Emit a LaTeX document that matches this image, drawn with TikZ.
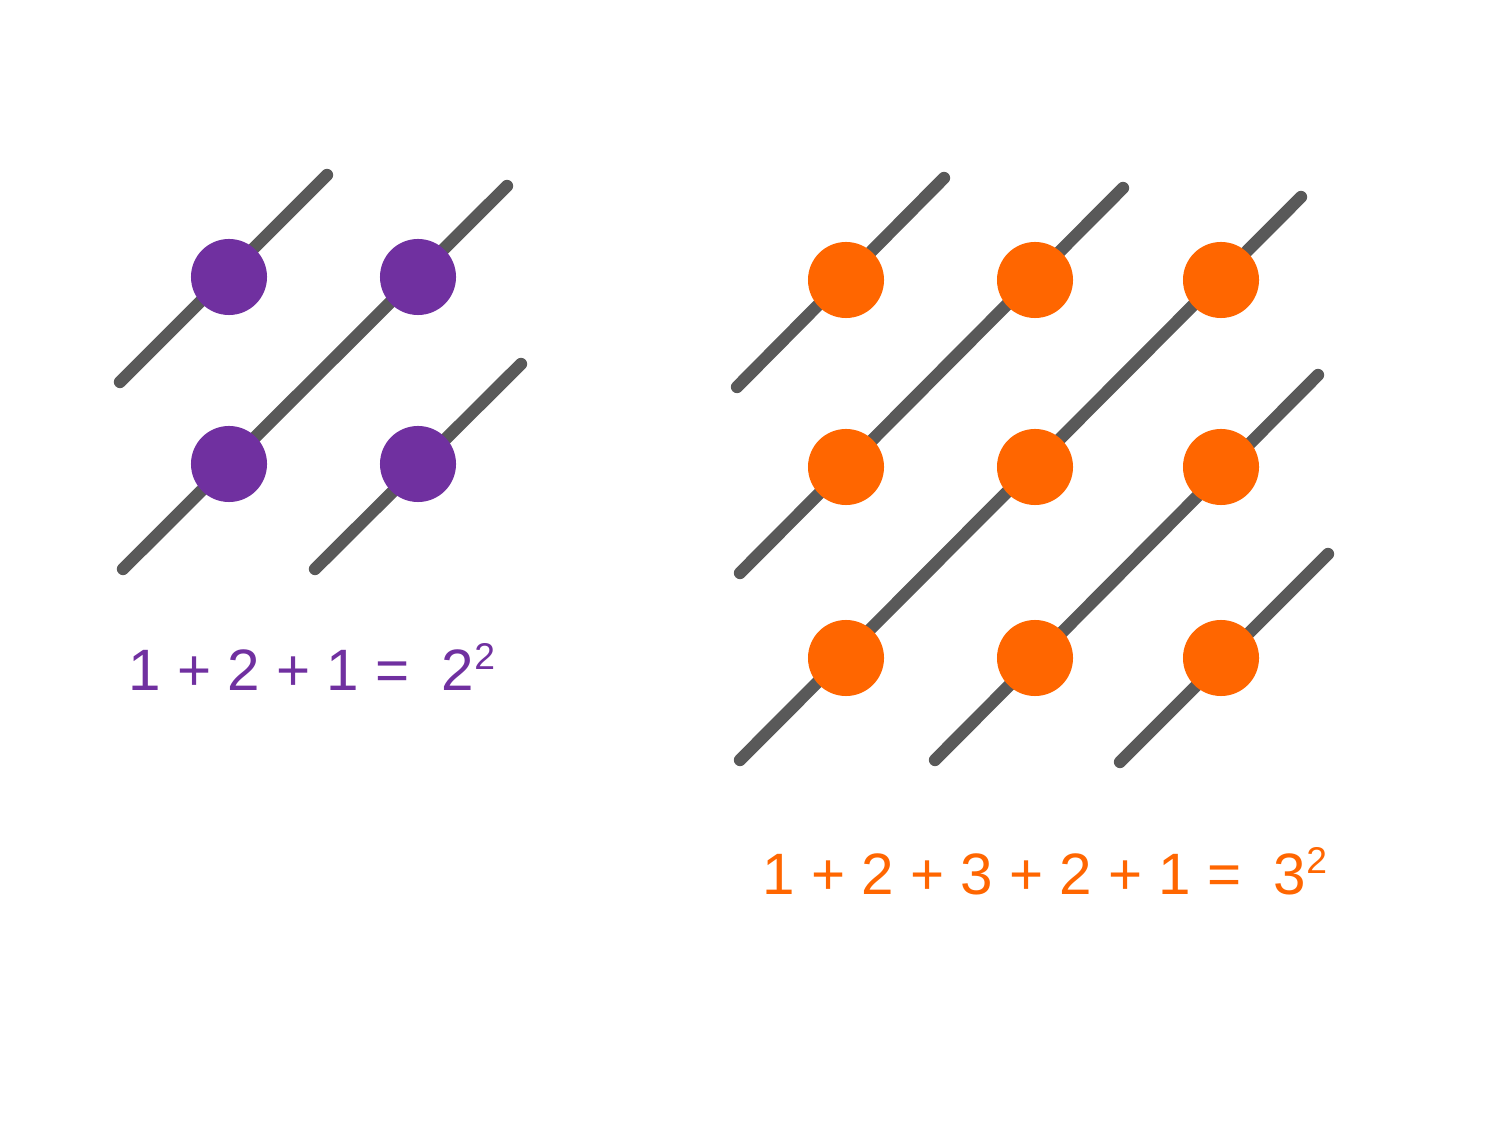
\documentclass[tikz,border=0pt]{standalone}
\usepackage{fontspec}
\setmainfont{Liberation Sans}
\definecolor{rodgray}{RGB}{89,89,89}
\definecolor{beadpurple}{RGB}{112,48,160}
\definecolor{beadorange}{RGB}{255,102,0}
\newcommand{\supnum}[1]{\raisebox{5.8pt}{\fontsize{10.6}{12}\selectfont #1}}
\begin{document}
\begin{tikzpicture}[x=0.01cm,y=-0.01cm,
  rod/.style={draw=rodgray,line width=3.5pt,line cap=round},
  pbead/.style={circle,fill=beadpurple,minimum size=0.76cm,inner sep=0pt,draw=none},
  obead/.style={circle,fill=beadorange,minimum size=0.76cm,inner sep=0pt,draw=none},
  eqtext/.style={anchor=base west,inner sep=0pt,font=\fontsize{16.6}{20}\selectfont}]
\useasboundingbox[fill=white] (0,0) rectangle (1500,1125);
% ---------- left figure ----------
\coordinate (la1) at (120,382); \coordinate (lb1) at (327,175);
\coordinate (la2) at (123,569); \coordinate (lb2) at (507,186);
\coordinate (la3) at (315,569); \coordinate (lb3) at (521,364);
\draw[rod] (la1) -- (lb1);
\draw[rod] (la2) -- (lb2);
\draw[rod] (la3) -- (lb3);
\node[pbead] (p11) at (229,277) {};
\node[pbead] (p12) at (418,277) {};
\node[pbead] (p21) at (229,464) {};
\node[pbead] (p22) at (418,464) {};
\node[eqtext,text=beadpurple] (leq) at (128,690) {1 + 2 + 1 = \ 2\supnum{2}};
% ---------- right figure ----------
\coordinate (ra1) at (737,387);  \coordinate (rb1) at (944,178);
\coordinate (ra2) at (740,573);  \coordinate (rb2) at (1123,188);
\coordinate (ra3) at (740,760);  \coordinate (rb3) at (1301,197);
\coordinate (ra4) at (935,760);  \coordinate (rb4) at (1318,375);
\coordinate (ra5) at (1120,762); \coordinate (rb5) at (1328,554);
\draw[rod] (ra1) -- (rb1);
\draw[rod] (ra2) -- (rb2);
\draw[rod] (ra3) -- (rb3);
\draw[rod] (ra4) -- (rb4);
\draw[rod] (ra5) -- (rb5);
\node[obead] (o11) at (846,280) {};
\node[obead] (o12) at (1035,280) {};
\node[obead] (o13) at (1221,280) {};
\node[obead] (o21) at (846,467) {};
\node[obead] (o22) at (1035,467) {};
\node[obead] (o23) at (1221,467) {};
\node[obead] (o31) at (846,658) {};
\node[obead] (o32) at (1035,658) {};
\node[obead] (o33) at (1221,658) {};
\node[eqtext,text=beadorange] (req) at (762,894) {1 + 2 + 3 + 2 + 1 = \ 3\supnum{2}};
\end{tikzpicture}
\end{document}
